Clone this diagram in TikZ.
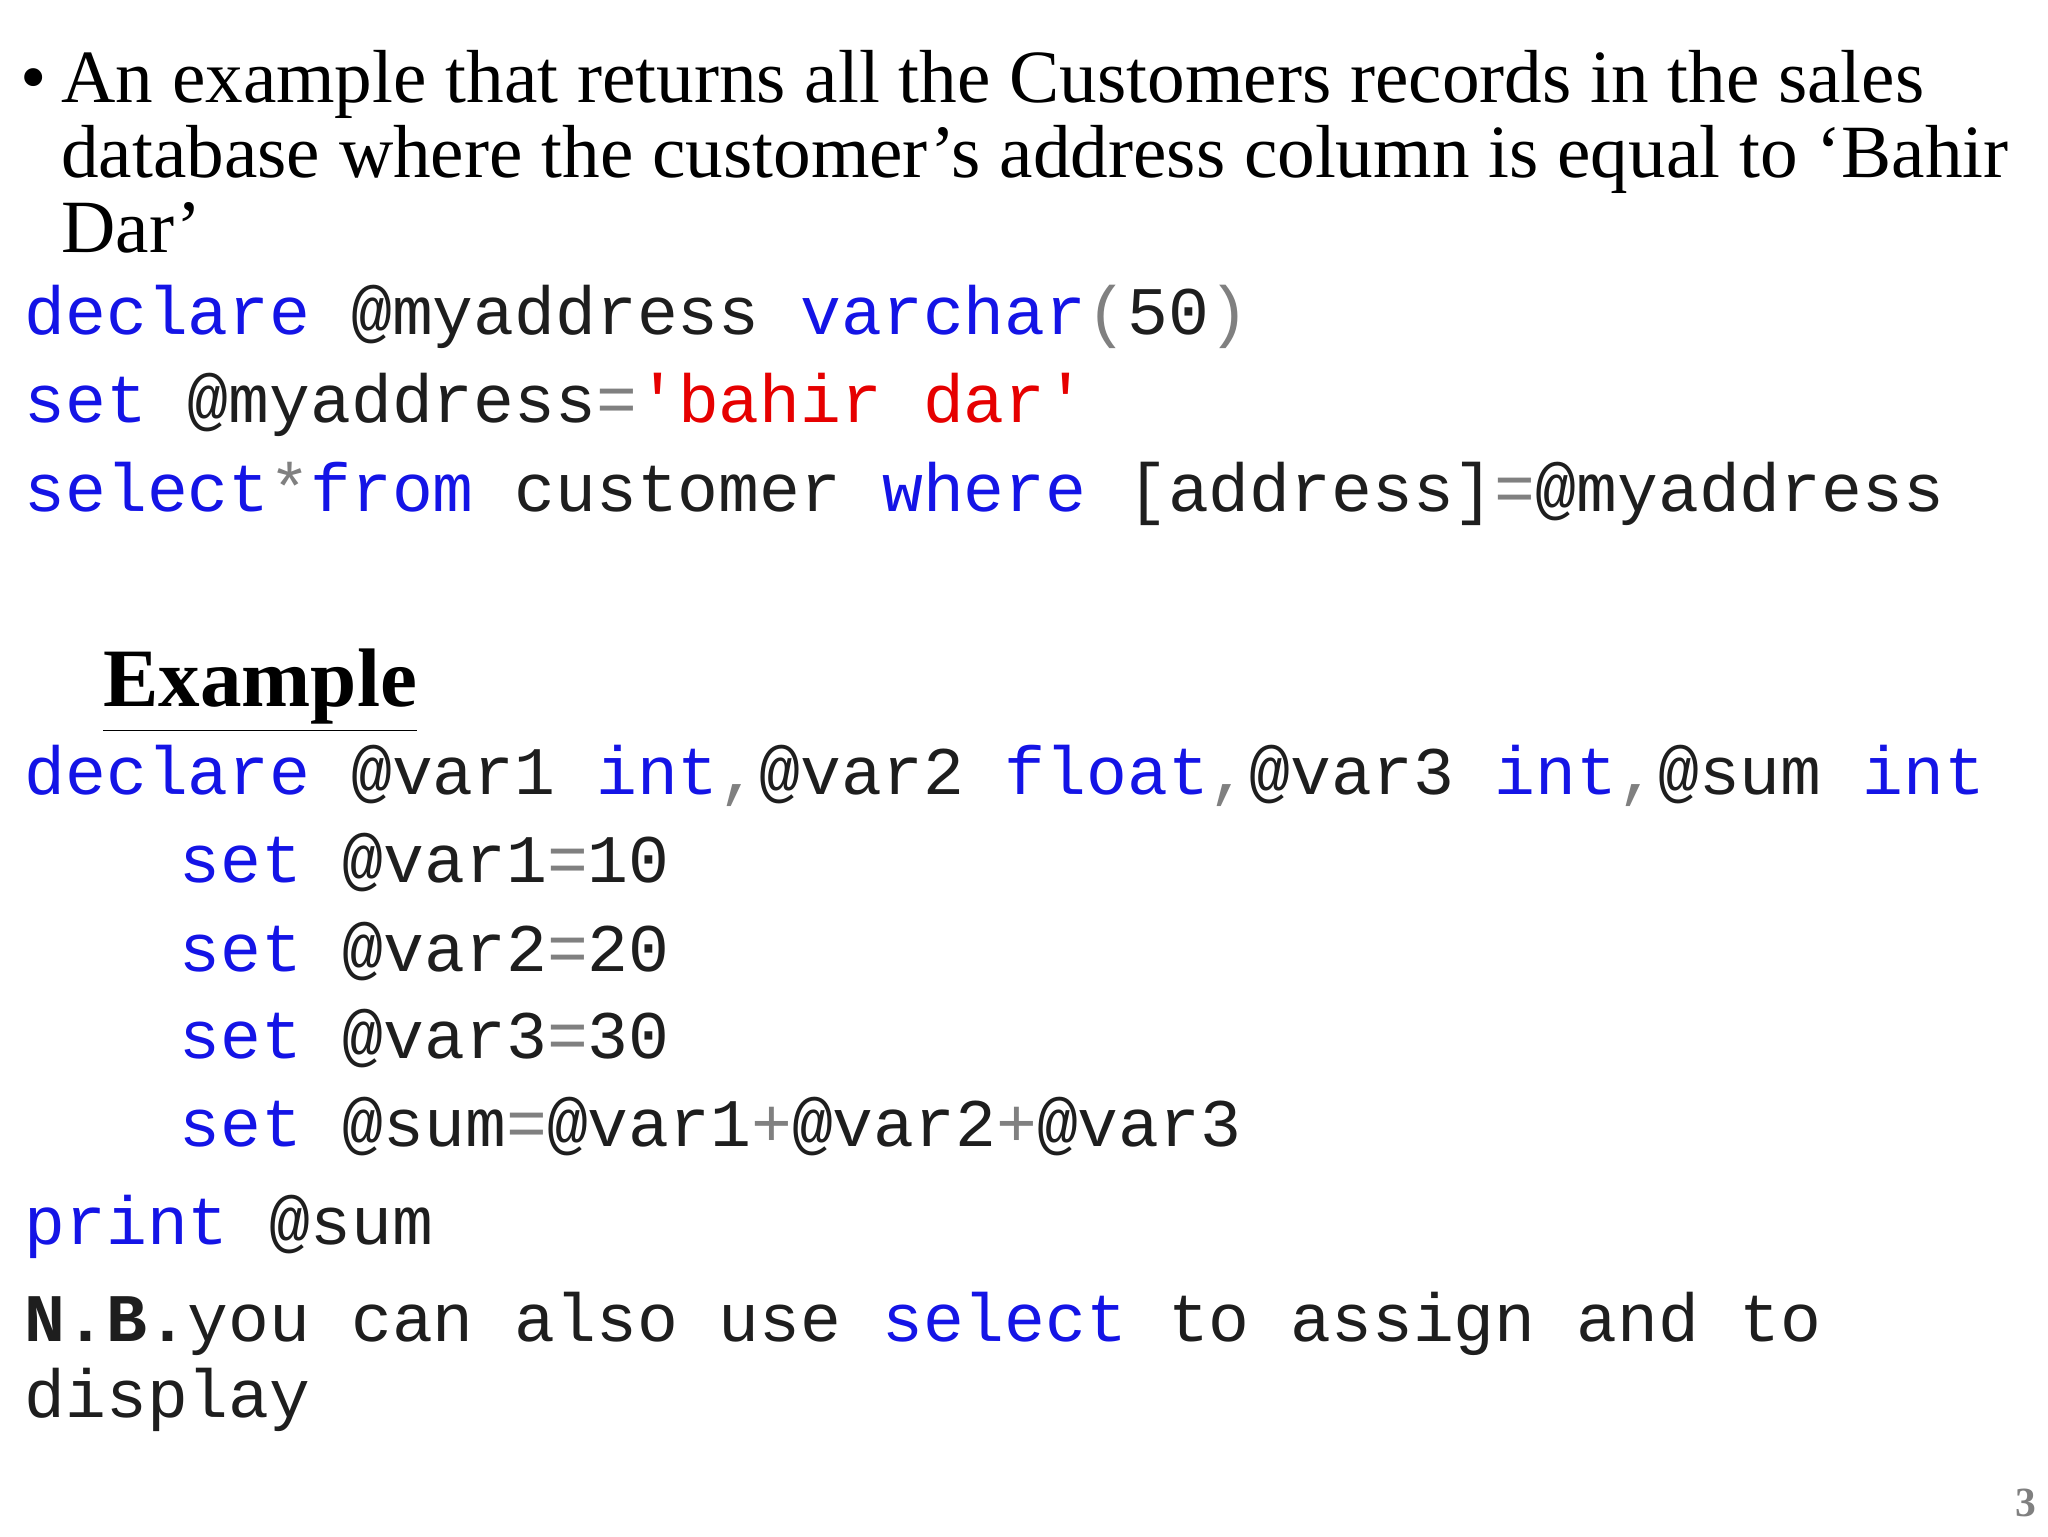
\documentclass[tikz,border=0pt]{standalone}
\usepackage{fontspec}
\setmainfont{Liberation Serif}
\newfontfamily\code{Liberation Mono}
\definecolor{kw}{RGB}{20,20,230}
\definecolor{op}{RGB}{128,128,128}
\definecolor{str}{RGB}{230,0,0}
\definecolor{txt}{RGB}{30,30,30}
\begin{document}
\begin{tikzpicture}[x=1cm,y=1cm,
  cl/.style={anchor=base west,inner sep=0pt,font=\code\fontsize{14.75}{17}\selectfont,text=txt},
  tl/.style={anchor=base west,inner sep=0pt,font=\fontsize{16.3}{19}\selectfont,text=black}]
\useasboundingbox (0,0) rectangle (15.6,-11.7);
\fill[white] (0,0) rectangle (15.6,-11.7);
\node[tl] (b) at (0.15,-0.78) {•};
\node[tl] (l1) at (0.46,-0.78) {An example that returns all the Customers records in the sales};
\node[tl] (l2) at (0.46,-1.35) {database where the customer’s address column is equal to ‘Bahir};
\node[tl] (l3) at (0.46,-1.92) {Dar’};
\node[cl] (c1) at (0.18,-2.55) {\textcolor{kw}{declare} @myaddress \textcolor{kw}{varchar}\textcolor{op}{(}50\textcolor{op}{)}};
\node[cl] (c2) at (0.18,-3.22) {\textcolor{kw}{set} @myaddress\textcolor{op}{=}\textcolor{str}{'bahir dar'}};
\node[cl] (c3) at (0.18,-3.90) {\textcolor{kw}{select}\textcolor{op}{*}\textcolor{kw}{from} customer \textcolor{kw}{where} [address]\textcolor{op}{=}@myaddress};
\node[tl,font=\bfseries\fontsize{18}{20}\selectfont] (ex) at (0.78,-5.38) {\underline{Example}};
\node[cl] (d1) at (0.18,-6.05) {\textcolor{kw}{declare} @var1 \textcolor{kw}{int}\textcolor{op}{,}@var2 \textcolor{kw}{float}\textcolor{op}{,}@var3 \textcolor{kw}{int}\textcolor{op}{,}@sum \textcolor{kw}{int}};
\node[cl] (s1) at (1.36,-6.72) {\textcolor{kw}{set} @var1\textcolor{op}{=}10};
\node[cl] (s2) at (1.36,-7.40) {\textcolor{kw}{set} @var2\textcolor{op}{=}20};
\node[cl] (s3) at (1.36,-8.06) {\textcolor{kw}{set} @var3\textcolor{op}{=}30};
\node[cl] (s4) at (1.36,-8.73) {\textcolor{kw}{set} @sum\textcolor{op}{=}@var1\textcolor{op}{+}@var2\textcolor{op}{+}@var3};
\node[cl] (p) at (0.18,-9.48) {\textcolor{kw}{print} @sum};
\node[cl] (nb) at (0.18,-10.22) {\textbf{N.B.}you can also use \textcolor{kw}{select} to assign and to};
\node[cl] (nb2) at (0.18,-10.80) {display};
\node[anchor=base east,inner sep=0pt,font=\bfseries\fontsize{9}{10}\selectfont,text=op] (pg) at (15.52,-11.55) {3};
\end{tikzpicture}
\end{document}
